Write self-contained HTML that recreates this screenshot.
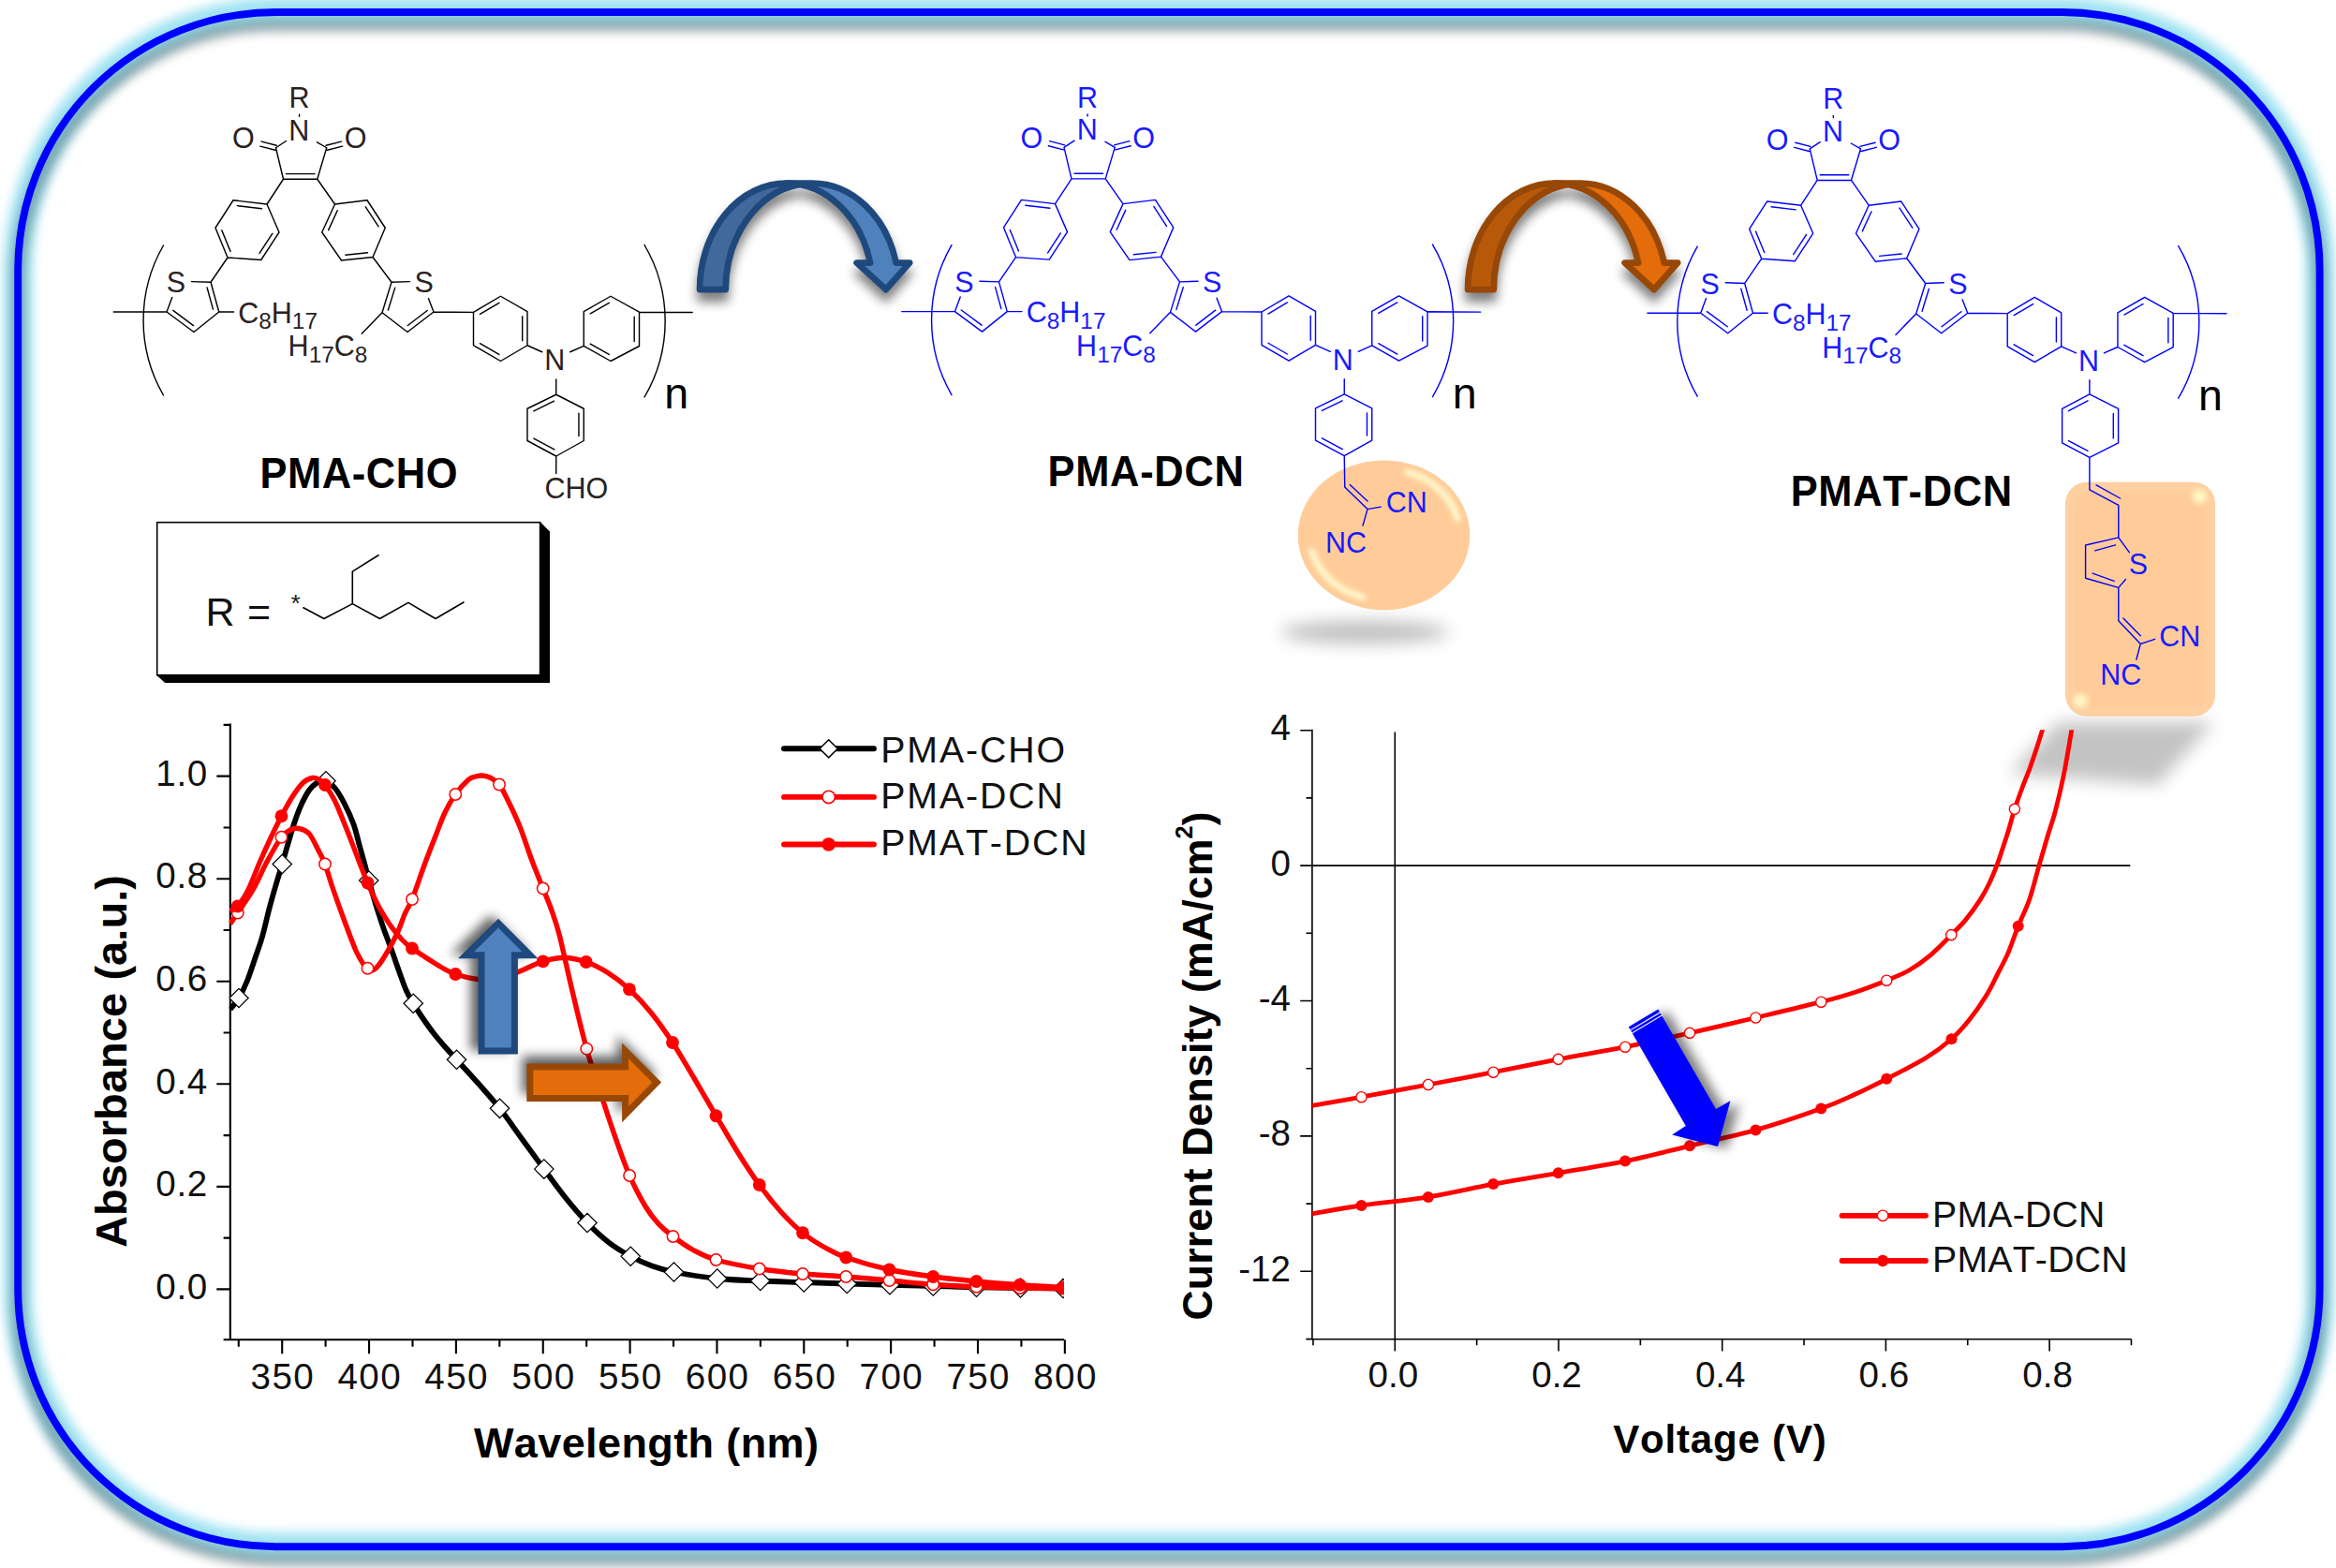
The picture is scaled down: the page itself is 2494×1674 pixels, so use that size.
<!DOCTYPE html>
<html lang="en"><head><meta charset="utf-8"><title>PMA-CHO, PMA-DCN and PMAT-DCN polymers</title>
<style>html,body{margin:0;padding:0;background:#fff}svg{display:block}text{font-family:'Liberation Sans',sans-serif;font-kerning:none}</style></head>
<body>
<svg width="2494" height="1674" viewBox="0 0 2494 1674">
<defs>
<filter id="blur2" x="-20%" y="-20%" width="140%" height="140%"><feGaussianBlur stdDeviation="2"/></filter>
<filter id="blur3" x="-20%" y="-20%" width="140%" height="140%"><feGaussianBlur stdDeviation="3"/></filter>
<filter id="blur5" x="-20%" y="-20%" width="140%" height="140%"><feGaussianBlur stdDeviation="4.5"/></filter>
<filter id="blur6" x="-30%" y="-60%" width="160%" height="220%"><feGaussianBlur stdDeviation="6"/></filter>
<filter id="blur9" x="-30%" y="-60%" width="160%" height="220%"><feGaussianBlur stdDeviation="9"/></filter>
<filter id="fglow" filterUnits="userSpaceOnUse" x="-40" y="-40" width="2580" height="1760"><feGaussianBlur stdDeviation="6"/></filter>
<filter id="fshadow" filterUnits="userSpaceOnUse" x="-40" y="-40" width="2580" height="1760"><feGaussianBlur stdDeviation="6.5"/></filter>
<clipPath id="clipL"><rect x="244.7" y="760" width="891.3" height="672"/></clipPath>
<clipPath id="clipR"><rect x="1400.2" y="779.2" width="876" height="652"/></clipPath>
<clipPath id="clipEl"><ellipse cx="1477.5" cy="571.3" rx="91.8" ry="79.9"/></clipPath>
<clipPath id="clipRR"><rect x="2205" y="514.7" width="160" height="250" rx="23" ry="23"/></clipPath>
</defs>
<rect width="2494" height="1674" fill="#fff"/>
<rect x="19.2" y="13.0" width="2457.4" height="1638.2" rx="275" ry="275" fill="none" stroke="#9ee2f2" stroke-width="30" filter="url(#fglow)"/>
<rect x="19.2" y="13.0" width="2457.4" height="1638.2" rx="275" ry="275" fill="none" stroke="#000" stroke-width="10" opacity="0.4" filter="url(#fshadow)" transform="translate(0,14)"/>
<rect x="19.2" y="13.0" width="2457.4" height="1638.2" rx="275" ry="275" fill="none" stroke="#0000ff" stroke-width="7.9"/>
<ellipse cx="1457" cy="675" rx="90" ry="12" fill="#8c8c8c" opacity="0.56" filter="url(#blur9)"/>
<ellipse cx="1477.5" cy="571.3" rx="91.8" ry="79.9" fill="#ffcc99"/>
<g clip-path="url(#clipEl)" fill="none" stroke-linecap="round"><path d="M1502.6 504.0A81.2 70.7 0 0 1 1556.3 554.2" stroke="#fff3c0" stroke-width="7" filter="url(#blur3)" opacity="0.9"/><path d="M1502.6 504.0A81.2 70.7 0 0 1 1556.3 554.2" stroke="#fffbd8" stroke-width="3" filter="url(#blur2)"/><path d="M1400.5 588.0A79.4 69.1 0 0 0 1455.6 637.7" stroke="#fff3c0" stroke-width="7" filter="url(#blur3)" opacity="0.9"/><path d="M1400.5 588.0A79.4 69.1 0 0 0 1455.6 637.7" stroke="#fffbd8" stroke-width="3" filter="url(#blur2)"/></g>
<path d="M2198 771 L2364 771 L2303 838 L2146 826 Z" fill="#999" opacity="0.58" filter="url(#blur9)"/>
<rect x="2205" y="514.7" width="160" height="250" rx="23" ry="23" fill="#ffcc99"/>
<g clip-path="url(#clipRR)"><rect x="2210" y="519.7" width="150" height="240" rx="18" ry="18" fill="none" stroke="#ffd9b0" stroke-width="10" opacity="0.38" filter="url(#blur2)"/><circle cx="2348" cy="530" r="7.5" fill="#fffac8" filter="url(#blur3)"/><circle cx="2221.5" cy="748" r="7.5" fill="#fffac8" filter="url(#blur3)"/></g>
<g filter="url(#blur6)" opacity="0.5" transform="translate(0,10)"><path d="M747.1 309.1A92.5 113.5 0 0 1 839.6 195.6A92.5 113.5 0 0 1 853.4 196.87A92.5 113.5 0 0 0 774.7 309.1Z" fill="#000" stroke="#000" stroke-width="6.8" stroke-linejoin="round"/><path d="M839.6 195.6L867.2 195.6A92.5 113.5 0 0 1 956.74 280.6L971.19 280.6L945.9 309.1L914.69 280.6L929.14 280.6A92.5 113.5 0 0 0 839.6 195.6Z" fill="#000" stroke="#000" stroke-width="6.8" stroke-linejoin="round"/></g>
<path d="M747.1 309.1A92.5 113.5 0 0 1 839.6 195.6A92.5 113.5 0 0 1 853.4 196.87A92.5 113.5 0 0 0 774.7 309.1Z" fill="#41699c" stroke="#1f497d" stroke-width="6.8" stroke-linejoin="round"/>
<path d="M839.6 195.6L867.2 195.6A92.5 113.5 0 0 1 956.74 280.6L971.19 280.6L945.9 309.1L914.69 280.6L929.14 280.6A92.5 113.5 0 0 0 839.6 195.6Z" fill="#4f81bd" stroke="#1f497d" stroke-width="6.8" stroke-linejoin="round"/>
<g filter="url(#blur6)" opacity="0.5" transform="translate(0,10)"><path d="M1567.1 309.1A92.5 113.5 0 0 1 1659.6 195.6A92.5 113.5 0 0 1 1673.4 196.87A92.5 113.5 0 0 0 1594.7 309.1Z" fill="#000" stroke="#000" stroke-width="6.8" stroke-linejoin="round"/><path d="M1659.6 195.6L1687.2 195.6A92.5 113.5 0 0 1 1776.74 280.6L1791.19 280.6L1765.9 309.1L1734.69 280.6L1749.14 280.6A92.5 113.5 0 0 0 1659.6 195.6Z" fill="#000" stroke="#000" stroke-width="6.8" stroke-linejoin="round"/></g>
<path d="M1567.1 309.1A92.5 113.5 0 0 1 1659.6 195.6A92.5 113.5 0 0 1 1673.4 196.87A92.5 113.5 0 0 0 1594.7 309.1Z" fill="#b8590a" stroke="#974807" stroke-width="6.8" stroke-linejoin="round"/>
<path d="M1659.6 195.6L1687.2 195.6A92.5 113.5 0 0 1 1776.74 280.6L1791.19 280.6L1765.9 309.1L1734.69 280.6L1749.14 280.6A92.5 113.5 0 0 0 1659.6 195.6Z" fill="#e46c0a" stroke="#974807" stroke-width="6.8" stroke-linejoin="round"/>
<path d="M305.5 150.5L294.5 157.75M338.5 151.8L348.75 157.75M294.5 157.75L302.5 191.25M348.75 157.75L338.75 191.25M302.5 191.25L338.75 191.25M305.5 185.6L336 185.6M295.15 155.23L279.15 151.08M293.85 160.27L277.85 156.12M349.39 160.27L365.64 156.12M348.11 155.23L364.36 151.08M319.6 122.3L319.6 124.3M285 218L249 213.75L230 243.25L243 275L278.75 277.5L298 248ZM279.41 222.68L253.34 219.6M236.8 245.87L246.01 268.36M277.04 270.42L290.83 249.29M302.5 191.25L285 218M357.5 218L392 213.75L411.25 243.25L398 274.5L364.5 278L343.75 248ZM350.65 245.66L360.23 224.75M390.29 220.83L404.08 241.96M392.48 269.75L368.92 272.21M338.75 191.25L357.5 218M204.5 300.6L225 301.25M225 301.25L233.75 333M233.75 333L207 354.5M207 354.5L178 333M178 333L183.75 317.5M221.09 307L227.44 330.07M206.54 347.56L184.77 331.42M243 275L225 301.25M233.75 333L249.5 333M178 333L121.25 333M418 301.25L437.5 300.6M418 301.25L408 333.75M408 333.75L435 354.5M435 354.5L463 333M463 333L457.5 318.75M421.74 307.11L414.39 331.01M435.34 347.56L456.2 331.54M398 274.5L418 301.25M408 333.75L386.25 356.25M463 333L505.5 333.4M505.5 333.4L534.5 316.25L563 332.7L563 368.75L534.5 385.5L505.5 368.75ZM512.5 335.42L532.89 323.36M557.7 337.7L557.7 363.75M532.82 378.41L512.48 366.66M563 368.75L578.75 375.75M623.25 332.7L652 316.25L682.5 333.2L682.5 369.5L652 385.5L623.25 369.3ZM630.22 334.82L650.29 323.33M677.2 338.2L677.2 364.5M650.25 378.43L630.21 367.14M608.75 375.75L623.25 369.3M682.5 333.2L739.25 333.5M593.75 405L593.75 421.25M593.75 421.25L623.25 436.25L623.25 470.5L593.75 487L563 470.5L563 436.25ZM569.82 438.82L591.58 428.21M617.95 441.25L617.95 465.5M591.85 479.97L569.91 468.19M174.5 262A160 160 0 0 0 174.5 422M688 261.5A160 160 0 0 1 688 424M593.75 487L593.75 505.5" fill="none" stroke="#000" stroke-width="1.42" stroke-linecap="round" stroke-linejoin="round"/>
<g fill="#2a2222" font-family="'Liberation Sans',sans-serif"><text x="319.5" y="115" font-size="30.5" text-anchor="middle" font-weight="normal" >R</text><text x="319.3" y="149.5" font-size="30.5" text-anchor="middle" font-weight="normal" >N</text><text x="259.8" y="158.4" font-size="30.5" text-anchor="middle" font-weight="normal" >O</text><text x="379.5" y="158.4" font-size="30.5" text-anchor="middle" font-weight="normal" >O</text><text x="187.9" y="312.3" font-size="30.5" text-anchor="middle" font-weight="normal" >S</text><text x="452.6" y="312.3" font-size="30.5" text-anchor="middle" font-weight="normal" >S</text><text x="592.2" y="395" font-size="30.5" text-anchor="middle" font-weight="normal" >N</text><text x="254.2" y="344.8" font-size="30.5">C<tspan font-size="24.4" dy="6.5">8</tspan><tspan dy="-6.5">H</tspan><tspan font-size="24.4" dy="6.5">17</tspan></text><text x="307.6" y="380.4" font-size="30.5">H<tspan font-size="24.4" dy="6.5">17</tspan><tspan dy="-6.5">C</tspan><tspan font-size="24.4" dy="6.5">8</tspan></text><text x="615.3" y="532.4" font-size="30.5" text-anchor="middle" font-weight="normal" >CHO</text></g>
<text x="709.3" y="436.3" font-size="46.5" text-anchor="start" font-weight="normal" fill="#000" font-family="'Liberation Sans',sans-serif">n</text>
<path d="M1147 150.1L1136 157.35M1180 151.4L1190.25 157.35M1136 157.35L1144 190.85M1190.25 157.35L1180.25 190.85M1144 190.85L1180.25 190.85M1147 185.2L1177.5 185.2M1136.65 154.83L1120.65 150.68M1135.35 159.87L1119.35 155.72M1190.89 159.87L1207.14 155.72M1189.61 154.83L1205.86 150.68M1161.1 121.9L1161.1 123.9M1126.5 217.6L1090.5 213.35L1071.5 242.85L1084.5 274.6L1120.25 277.1L1139.5 247.6ZM1120.91 222.28L1094.84 219.2M1078.3 245.47L1087.51 267.96M1118.54 270.02L1132.33 248.89M1144 190.85L1126.5 217.6M1199 217.6L1233.5 213.35L1252.75 242.85L1239.5 274.1L1206 277.6L1185.25 247.6ZM1192.15 245.26L1201.73 224.35M1231.79 220.43L1245.58 241.56M1233.98 269.35L1210.42 271.81M1180.25 190.85L1199 217.6M1046 300.2L1066.5 300.85M1066.5 300.85L1075.25 332.6M1075.25 332.6L1048.5 354.1M1048.5 354.1L1019.5 332.6M1019.5 332.6L1025.25 317.1M1062.59 306.6L1068.94 329.67M1048.04 347.16L1026.27 331.02M1084.5 274.6L1066.5 300.85M1075.25 332.6L1091 332.6M1019.5 332.6L962.75 332.6M1259.5 300.85L1279 300.2M1259.5 300.85L1249.5 333.35M1249.5 333.35L1276.5 354.1M1276.5 354.1L1304.5 332.6M1304.5 332.6L1299 318.35M1263.24 306.71L1255.89 330.61M1276.84 347.16L1297.7 331.14M1239.5 274.1L1259.5 300.85M1249.5 333.35L1227.75 355.85M1304.5 332.6L1347 333M1347 333L1376 315.85L1404.5 332.3L1404.5 368.35L1376 385.1L1347 368.35ZM1354 335.02L1374.39 322.96M1399.2 337.3L1399.2 363.35M1374.32 378.01L1353.98 366.26M1404.5 368.35L1420.25 375.35M1464.75 332.3L1493.5 315.85L1524 332.8L1524 369.1L1493.5 385.1L1464.75 368.9ZM1471.72 334.42L1491.79 322.93M1518.7 337.8L1518.7 364.1M1491.75 378.03L1471.71 366.74M1450.25 375.35L1464.75 368.9M1524 332.8L1580.75 333.1M1435.25 404.6L1435.25 420.85M1435.25 420.85L1464.75 435.85L1464.75 470.1L1435.25 486.6L1404.5 470.1L1404.5 435.85ZM1411.32 438.42L1433.08 427.81M1459.45 440.85L1459.45 465.1M1433.35 479.57L1411.41 467.79M1016 261.6A160 160 0 0 0 1016 421.6M1529.5 261.1A160 160 0 0 1 1529.5 423.6M1435.25 486.6L1435.75 519.9M1435.75 519.9L1460 543.6M1441.25 517.4L1460 535.1M1460 543.6L1474.25 541.1M1460 543.6L1455 561.1" fill="none" stroke="#0000ff" stroke-width="1.42" stroke-linecap="round" stroke-linejoin="round"/>
<g fill="#1a1aff" font-family="'Liberation Sans',sans-serif"><text x="1161" y="114.6" font-size="30.5" text-anchor="middle" font-weight="normal" >R</text><text x="1160.8" y="149.1" font-size="30.5" text-anchor="middle" font-weight="normal" >N</text><text x="1101.3" y="158" font-size="30.5" text-anchor="middle" font-weight="normal" >O</text><text x="1221" y="158" font-size="30.5" text-anchor="middle" font-weight="normal" >O</text><text x="1029.4" y="311.9" font-size="30.5" text-anchor="middle" font-weight="normal" >S</text><text x="1294.1" y="311.9" font-size="30.5" text-anchor="middle" font-weight="normal" >S</text><text x="1433.7" y="394.6" font-size="30.5" text-anchor="middle" font-weight="normal" >N</text><text x="1095.7" y="344.4" font-size="30.5">C<tspan font-size="24.4" dy="6.5">8</tspan><tspan dy="-6.5">H</tspan><tspan font-size="24.4" dy="6.5">17</tspan></text><text x="1149.1" y="380" font-size="30.5">H<tspan font-size="24.4" dy="6.5">17</tspan><tspan dy="-6.5">C</tspan><tspan font-size="24.4" dy="6.5">8</tspan></text><text x="1501.7" y="547.4" font-size="30.5" text-anchor="middle" font-weight="normal" >CN</text><text x="1437.1" y="589.9" font-size="30.5" text-anchor="middle" font-weight="normal" >NC</text></g>
<text x="1550.8" y="435.9" font-size="46.5" text-anchor="start" font-weight="normal" fill="#000" font-family="'Liberation Sans',sans-serif">n</text>
<path d="M1943.2 151.7L1932.2 158.95M1976.2 153L1986.45 158.95M1932.2 158.95L1940.2 192.45M1986.45 158.95L1976.45 192.45M1940.2 192.45L1976.45 192.45M1943.2 186.8L1973.7 186.8M1932.85 156.43L1916.85 152.28M1931.55 161.47L1915.55 157.32M1987.09 161.47L2003.34 157.32M1985.81 156.43L2002.06 152.28M1957.3 123.5L1957.3 125.5M1922.7 219.2L1886.7 214.95L1867.7 244.45L1880.7 276.2L1916.45 278.7L1935.7 249.2ZM1917.11 223.88L1891.04 220.8M1874.5 247.07L1883.71 269.56M1914.74 271.62L1928.53 250.49M1940.2 192.45L1922.7 219.2M1995.2 219.2L2029.7 214.95L2048.95 244.45L2035.7 275.7L2002.2 279.2L1981.45 249.2ZM1988.35 246.86L1997.93 225.95M2027.99 222.03L2041.78 243.16M2030.18 270.95L2006.62 273.41M1976.45 192.45L1995.2 219.2M1842.2 301.8L1862.7 302.45M1862.7 302.45L1871.45 334.2M1871.45 334.2L1844.7 355.7M1844.7 355.7L1815.7 334.2M1815.7 334.2L1821.45 318.7M1858.79 308.2L1865.14 331.27M1844.24 348.76L1822.47 332.62M1880.7 276.2L1862.7 302.45M1871.45 334.2L1887.2 334.2M1815.7 334.2L1758.95 334.2M2055.7 302.45L2075.2 301.8M2055.7 302.45L2045.7 334.95M2045.7 334.95L2072.7 355.7M2072.7 355.7L2100.7 334.2M2100.7 334.2L2095.2 319.95M2059.44 308.31L2052.09 332.21M2073.04 348.76L2093.9 332.74M2035.7 275.7L2055.7 302.45M2045.7 334.95L2023.95 357.45M2100.7 334.2L2143.2 334.6M2143.2 334.6L2172.2 317.45L2200.7 333.9L2200.7 369.95L2172.2 386.7L2143.2 369.95ZM2150.2 336.62L2170.59 324.56M2195.4 338.9L2195.4 364.95M2170.52 379.61L2150.18 367.86M2200.7 369.95L2216.45 376.95M2260.95 333.9L2289.7 317.45L2320.2 334.4L2320.2 370.7L2289.7 386.7L2260.95 370.5ZM2267.92 336.02L2287.99 324.53M2314.9 339.4L2314.9 365.7M2287.95 379.63L2267.91 368.34M2246.45 376.95L2260.95 370.5M2320.2 334.4L2376.95 334.7M2230.9 405.6L2230.9 420.8M2230.9 420.8L2261.6 436.4L2261.6 472.9L2230.9 488.4L2201.6 472.9L2201.6 436.4ZM2208.5 438.73L2228.98 427.83M2256.3 441.4L2256.3 467.9M2228.96 481.38L2208.5 470.55M1812.2 263.2A160 160 0 0 0 1812.2 423.2M2325.7 262.7A160 160 0 0 1 2325.7 425.2M2230.9 488.4L2230.9 522.9M2230.9 522.9L2261.8 539.4M2238.1 517.8L2263.6 532M2261.8 539.4L2261.8 573.9M2261.8 573.9L2226.6 582M2226.6 582L2226.6 617.2M2226.6 617.2L2261.8 627.4M2261.8 573.9L2273.3 589.7M2261.8 627.4L2269.4 618.5M2236.8 587.9L2258.5 581.9M2234.2 612.1L2257.2 620.3M2261.8 627.4L2261.8 662.7M2261.8 662.7L2285.3 687.4M2266.9 660.1L2285.3 678.8M2285.3 687.4L2300.6 682.3M2285.3 687.4L2280.9 704" fill="none" stroke="#0000ff" stroke-width="1.42" stroke-linecap="round" stroke-linejoin="round"/>
<g fill="#1a1aff" font-family="'Liberation Sans',sans-serif"><text x="1957.2" y="116.2" font-size="30.5" text-anchor="middle" font-weight="normal" >R</text><text x="1957" y="150.7" font-size="30.5" text-anchor="middle" font-weight="normal" >N</text><text x="1897.5" y="159.6" font-size="30.5" text-anchor="middle" font-weight="normal" >O</text><text x="2017.2" y="159.6" font-size="30.5" text-anchor="middle" font-weight="normal" >O</text><text x="1825.6" y="313.5" font-size="30.5" text-anchor="middle" font-weight="normal" >S</text><text x="2090.3" y="313.5" font-size="30.5" text-anchor="middle" font-weight="normal" >S</text><text x="2229.9" y="396.2" font-size="30.5" text-anchor="middle" font-weight="normal" >N</text><text x="1891.9" y="346" font-size="30.5">C<tspan font-size="24.4" dy="6.5">8</tspan><tspan dy="-6.5">H</tspan><tspan font-size="24.4" dy="6.5">17</tspan></text><text x="1945.3" y="381.6" font-size="30.5">H<tspan font-size="24.4" dy="6.5">17</tspan><tspan dy="-6.5">C</tspan><tspan font-size="24.4" dy="6.5">8</tspan></text><text x="2283" y="612.7" font-size="30.5" text-anchor="middle" font-weight="normal" >S</text><text x="2327.2" y="690.2" font-size="30.5" text-anchor="middle" font-weight="normal" >CN</text><text x="2264.3" y="731" font-size="30.5" text-anchor="middle" font-weight="normal" >NC</text></g>
<text x="2347" y="437.5" font-size="46.5" text-anchor="start" font-weight="normal" fill="#000" font-family="'Liberation Sans',sans-serif">n</text>
<g font-family="'Liberation Sans',sans-serif" font-weight="bold" fill="#000">
<text transform="translate(277.5,521.2) scale(1,1.055)" font-size="43.5" textLength="211" lengthAdjust="spacing">PMA-CHO</text>
<text transform="translate(1118.5,519.2) scale(1,1.055)" font-size="43.5" textLength="209.5" lengthAdjust="spacing">PMA-DCN</text>
<text transform="translate(1911.7,540.4) scale(1,1.055)" font-size="43.5" textLength="236.5" lengthAdjust="spacing">PMAT-DCN</text>
</g>
<path d="M576.6 557 L587 567.6 L587 729 L176.2 729 L167 720.7 Z" fill="#000"/>
<rect x="167.7" y="557.7" width="408.9" height="163" fill="#fff" stroke="#000" stroke-width="1.6"/>
<text x="219.5" y="667.6" font-size="43" font-family="'Liberation Sans',sans-serif" fill="#111" word-spacing="1.5" xml:space="preserve">R = </text>
<text x="310.6" y="653" font-size="26.5" font-family="'Liberation Sans',sans-serif" fill="#222">*</text>
<path d="M323.9 648.8L345.9 660.5L376.3 644.6L405.5 660.5L435.9 643.4L465 660.5L495 643M376.3 644.6L376.3 610.1L404 592.7" fill="none" stroke="#000" stroke-width="1.6" stroke-linejoin="round" stroke-linecap="round"/>
<path d="M245.8 772.6L245.8 1430.2M238.6 1430.2L1136 1430.2M231.3 1376.4L245.8 1376.4M231.3 1266.85L245.8 1266.85M231.3 1157.3L245.8 1157.3M231.3 1047.75L245.8 1047.75M231.3 938.2L245.8 938.2M231.3 828.65L245.8 828.65M238.6 1321.62L245.8 1321.62M238.6 1212.08L245.8 1212.08M238.6 1102.53L245.8 1102.53M238.6 992.98L245.8 992.98M238.6 883.43L245.8 883.43M238.6 773.88L245.8 773.88M301.2 1430.2L301.2 1445.2M394.05 1430.2L394.05 1445.2M486.9 1430.2L486.9 1445.2M579.75 1430.2L579.75 1445.2M672.6 1430.2L672.6 1445.2M765.45 1430.2L765.45 1445.2M858.3 1430.2L858.3 1445.2M951.15 1430.2L951.15 1445.2M1044 1430.2L1044 1445.2M1136.85 1430.2L1136.85 1445.2M254.77 1430.2L254.77 1437.7M347.62 1430.2L347.62 1437.7M440.48 1430.2L440.48 1437.7M533.33 1430.2L533.33 1437.7M626.17 1430.2L626.17 1437.7M719.02 1430.2L719.02 1437.7M811.88 1430.2L811.88 1437.7M904.72 1430.2L904.72 1437.7M997.58 1430.2L997.58 1437.7M1090.42 1430.2L1090.42 1437.7" fill="none" stroke="#000" stroke-width="2.1"/>
<g font-family="'Liberation Sans',sans-serif" font-size="38.6" fill="#111">
<text x="221.8" y="1386.6" text-anchor="end" letter-spacing="0.6">0.0</text>
<text x="221.8" y="1277.05" text-anchor="end" letter-spacing="0.6">0.2</text>
<text x="221.8" y="1167.5" text-anchor="end" letter-spacing="0.6">0.4</text>
<text x="221.8" y="1057.95" text-anchor="end" letter-spacing="0.6">0.6</text>
<text x="221.8" y="948.4" text-anchor="end" letter-spacing="0.6">0.8</text>
<text x="221.8" y="838.85" text-anchor="end" letter-spacing="0.6">1.0</text>
<text x="301.9" y="1483.3" text-anchor="middle" letter-spacing="1.4">350</text>
<text x="394.75" y="1483.3" text-anchor="middle" letter-spacing="1.4">400</text>
<text x="487.6" y="1483.3" text-anchor="middle" letter-spacing="1.4">450</text>
<text x="580.45" y="1483.3" text-anchor="middle" letter-spacing="1.4">500</text>
<text x="673.3" y="1483.3" text-anchor="middle" letter-spacing="1.4">550</text>
<text x="766.15" y="1483.3" text-anchor="middle" letter-spacing="1.4">600</text>
<text x="859" y="1483.3" text-anchor="middle" letter-spacing="1.4">650</text>
<text x="951.85" y="1483.3" text-anchor="middle" letter-spacing="1.4">700</text>
<text x="1044.7" y="1483.3" text-anchor="middle" letter-spacing="1.4">750</text>
<text x="1137.55" y="1483.3" text-anchor="middle" letter-spacing="1.4">800</text>
</g>
<text transform="translate(134.8,1332) rotate(-90)" font-size="47" font-weight="bold" font-family="'Liberation Sans',sans-serif" textLength="398" lengthAdjust="spacing" fill="#000">Absorbance (a.u.)</text>
<text x="506" y="1556.2" font-size="45" font-weight="bold" font-family="'Liberation Sans',sans-serif" textLength="368" lengthAdjust="spacing" fill="#000">Wavelength (nm)</text>
<g clip-path="url(#clipL)">
<path d="M245.75 1077.5C247.29 1075.5 252 1070.5 255 1065.5C258 1060.5 260.83 1054.67 263.75 1047.5C266.67 1040.33 269.79 1030.42 272.5 1022.5C275.21 1014.58 277.5 1008.75 280 1000C282.5 991.25 285.21 978.75 287.5 970C289.79 961.25 291.46 955.42 293.75 947.5C296.04 939.58 299.17 929.58 301.25 922.5C303.33 915.42 304.17 912.08 306.25 905C308.33 897.92 311.25 887.5 313.75 880C316.25 872.5 318.54 866.04 321.25 860C323.96 853.96 327.29 847.71 330 843.75C332.71 839.79 335 837.96 337.5 836.25C340 834.54 343.25 833.92 345 833.5C346.75 833.08 345.92 832.46 348 833.75C350.08 835.04 354.25 837.29 357.5 841.25C360.75 845.21 364.17 851.04 367.5 857.5C370.83 863.96 374.79 872.5 377.5 880C380.21 887.5 381.67 895 383.75 902.5C385.83 910 388.33 918.75 390 925C391.67 931.25 391.67 932.5 393.75 940C395.83 947.5 399.79 961.25 402.5 970C405.21 978.75 407.5 985.42 410 992.5C412.5 999.58 414.79 1005 417.5 1012.5C420.21 1020 423.54 1030 426.25 1037.5C428.96 1045 431.25 1051.88 433.75 1057.5C436.25 1063.12 438.54 1066.67 441.25 1071.25C443.96 1075.83 446.46 1079.79 450 1085C453.54 1090.21 458.33 1097.08 462.5 1102.5C466.67 1107.92 470.83 1112.71 475 1117.5C479.17 1122.29 481.67 1124.83 487.5 1131.25C493.33 1137.67 502.33 1147.33 510 1156C517.67 1164.67 525.67 1173.38 533.5 1183.3C541.33 1193.22 549.12 1204.7 557 1215.5C564.88 1226.3 572.97 1237.52 580.8 1248.1C588.63 1258.68 596.3 1269.43 604 1279C611.7 1288.57 619.33 1297.58 627 1305.5C634.67 1313.42 642.29 1320.54 650 1326.5C657.71 1332.46 665.58 1337.08 673.25 1341.25C680.92 1345.42 688.29 1348.71 696 1351.5C703.71 1354.29 707.88 1355.75 719.5 1358C731.12 1360.25 750.38 1363.42 765.75 1365C781.12 1366.58 796.33 1366.83 811.75 1367.5C827.17 1368.17 842.83 1368.5 858.25 1369C873.67 1369.5 888.96 1370.04 904.25 1370.5C919.54 1370.96 934.67 1371.33 950 1371.75C965.33 1372.17 980.83 1372.58 996.25 1373C1011.67 1373.42 1026.96 1373.92 1042.5 1374.25C1058.04 1374.58 1074.08 1374.79 1089.5 1375C1104.92 1375.21 1127.42 1375.42 1135 1375.5" fill="none" stroke="#000" stroke-width="5.8" stroke-linejoin="round"/>
<path d="M244.8 1065.5L255 1055.3L265.2 1065.5L255 1075.7ZM291.05 922.5L301.25 912.3L311.45 922.5L301.25 932.7ZM337.8 833.75L348 823.55L358.2 833.75L348 843.95ZM383.55 940L393.75 929.8L403.95 940L393.75 950.2ZM431.05 1071.25L441.25 1061.05L451.45 1071.25L441.25 1081.45ZM477.3 1131.25L487.5 1121.05L497.7 1131.25L487.5 1141.45ZM523.3 1183.3L533.5 1173.1L543.7 1183.3L533.5 1193.5ZM570.6 1248.1L580.8 1237.9L591 1248.1L580.8 1258.3ZM616.8 1305.5L627 1295.3L637.2 1305.5L627 1315.7ZM663.05 1341.25L673.25 1331.05L683.45 1341.25L673.25 1351.45ZM709.3 1358L719.5 1347.8L729.7 1358L719.5 1368.2ZM755.55 1365L765.75 1354.8L775.95 1365L765.75 1375.2ZM801.55 1367.5L811.75 1357.3L821.95 1367.5L811.75 1377.7ZM848.05 1369L858.25 1358.8L868.45 1369L858.25 1379.2ZM894.05 1370.5L904.25 1360.3L914.45 1370.5L904.25 1380.7ZM939.8 1371.75L950 1361.55L960.2 1371.75L950 1381.95ZM986.05 1373L996.25 1362.8L1006.45 1373L996.25 1383.2ZM1032.3 1374.25L1042.5 1364.05L1052.7 1374.25L1042.5 1384.45ZM1079.3 1375L1089.5 1364.8L1099.7 1375L1089.5 1385.2ZM1124.8 1375.5L1135 1365.3L1145.2 1375.5L1135 1385.7Z" fill="#fff" stroke="#000" stroke-width="1.25"/>
<path d="M245.75 986.25C247.08 984.29 249.71 980.54 253.75 974.5C257.79 968.46 264.79 959.08 270 950C275.21 940.92 279.92 929.38 285 920C290.08 910.62 296.33 899.42 300.5 893.75C304.67 888.08 306.96 887.54 310 886C313.04 884.46 315.42 883.83 318.75 884.5C322.08 885.17 326.46 886.08 330 890C333.54 893.92 337.17 902.58 340 908C342.83 913.42 344.5 915.92 347 922.5C349.5 929.08 351.58 937.5 355 947.5C358.42 957.5 363.33 971.25 367.5 982.5C371.67 993.75 376.42 1006.92 380 1015C383.58 1023.08 386.58 1027.5 389 1031C391.42 1034.5 392.5 1035.5 394.5 1036C396.5 1036.5 398.42 1036.33 401 1034C403.58 1031.67 406.21 1028.17 410 1022C413.79 1015.83 420 1004.83 423.75 997C427.5 989.17 429.79 981.17 432.5 975C435.21 968.83 436.67 968.33 440 960C443.33 951.67 448.33 936.25 452.5 925C456.67 913.75 461.25 902.08 465 892.5C468.75 882.92 471.46 874.92 475 867.5C478.54 860.08 482.08 853.83 486.25 848C490.42 842.17 496.38 835.67 500 832.5C503.62 829.33 505.5 829.75 508 829C510.5 828.25 512.33 827.75 515 828C517.67 828.25 521 828.92 524 830.5C527 832.08 529.92 833.42 533 837.5C536.08 841.58 538.83 847.5 542.5 855C546.17 862.5 550.83 872.08 555 882.5C559.17 892.92 563.38 906.5 567.5 917.5C571.62 928.5 576.12 939.42 579.7 948.5C583.28 957.58 586.07 963.63 589 972C591.93 980.37 593.62 984.3 597.3 998.7C600.98 1013.1 606.27 1038.23 611.1 1058.4C615.93 1078.57 620.95 1100.57 626.3 1119.7C631.65 1138.83 638.08 1157.4 643.2 1173.2C648.32 1189 652.18 1200.87 657 1214.5C661.82 1228.13 666.75 1242.75 672.1 1255C677.45 1267.25 683.97 1279.43 689.1 1288C694.23 1296.57 698 1301.07 702.9 1306.4C707.8 1311.73 712.32 1315.32 718.5 1320C724.68 1324.68 732.33 1330.33 740 1334.5C747.67 1338.67 752.71 1341.67 764.5 1345C776.29 1348.33 795.33 1352 810.75 1354.5C826.17 1357 841.58 1358.58 857 1360C872.42 1361.42 887.83 1361.83 903.25 1363C918.67 1364.17 934 1365.62 949.5 1367C965 1368.38 980.75 1370.12 996.25 1371.25C1011.75 1372.38 1027.08 1373.12 1042.5 1373.75C1057.92 1374.38 1073.33 1374.71 1088.75 1375C1104.17 1375.29 1127.29 1375.42 1135 1375.5" fill="none" stroke="#f00" stroke-width="5.4" stroke-linejoin="round"/>
<g fill="#fff" stroke="#f00" stroke-width="1.5"><circle cx="253.75" cy="974.5" r="6.2"/><circle cx="300.5" cy="893.75" r="6.2"/><circle cx="347" cy="922.5" r="6.2"/><circle cx="392.5" cy="1033.75" r="6.2"/><circle cx="440" cy="960" r="6.2"/><circle cx="486.25" cy="848" r="6.2"/><circle cx="533" cy="837.5" r="6.2"/><circle cx="579.7" cy="948.5" r="6.2"/><circle cx="626.3" cy="1119.7" r="6.2"/><circle cx="672.1" cy="1255" r="6.2"/><circle cx="718.5" cy="1320" r="6.2"/><circle cx="764.5" cy="1345" r="6.2"/><circle cx="810.75" cy="1354.5" r="6.2"/><circle cx="857" cy="1360" r="6.2"/><circle cx="903.25" cy="1363" r="6.2"/><circle cx="949.5" cy="1367" r="6.2"/><circle cx="996.25" cy="1371.25" r="6.2"/><circle cx="1042.5" cy="1373.75" r="6.2"/><circle cx="1088.75" cy="1375" r="6.2"/><circle cx="1135" cy="1375.5" r="6.2"/></g>
<path d="M245.75 972.5C247.08 971.67 250.54 971.25 253.75 967.5C256.96 963.75 261.04 957.92 265 950C268.96 942.08 273.33 929.58 277.5 920C281.67 910.42 286.17 900.62 290 892.5C293.83 884.38 296.75 878.33 300.5 871.25C304.25 864.17 308.62 855.96 312.5 850C316.38 844.04 320.21 838.75 323.75 835.5C327.29 832.25 330.88 831 333.75 830.5C336.62 830 338.79 831.25 341 832.5C343.21 833.75 344.25 834.25 347 838C349.75 841.75 353.67 847.17 357.5 855C361.33 862.83 365.83 874.58 370 885C374.17 895.42 378.75 907.92 382.5 917.5C386.25 927.08 388.75 933.92 392.5 942.5C396.25 951.08 400.83 961.25 405 969C409.17 976.75 413.33 983.17 417.5 989C421.67 994.83 426.25 1000.08 430 1004C433.75 1007.92 435.83 1009.42 440 1012.5C444.17 1015.58 450 1019.25 455 1022.5C460 1025.75 464.79 1029.08 470 1032C475.21 1034.92 479.58 1037.75 486.25 1040C492.92 1042.25 502.21 1044.5 510 1045.5C517.79 1046.5 525.33 1047.5 533 1046C540.67 1044.5 548.22 1039.78 556 1036.5C563.78 1033.22 571.95 1028.63 579.7 1026.3C587.45 1023.97 594.83 1022.38 602.5 1022.5C610.17 1022.62 618 1024.33 625.75 1027C633.5 1029.67 641.29 1033.62 649 1038.5C656.71 1043.38 664.33 1049.17 672 1056.25C679.67 1063.33 687.33 1071.54 695 1081C702.67 1090.46 710.33 1101.33 718 1113C725.67 1124.67 733.25 1137.96 741 1151C748.75 1164.04 756.75 1178.08 764.5 1191.25C772.25 1204.42 779.79 1217.71 787.5 1230C795.21 1242.29 803 1254.33 810.75 1265C818.5 1275.67 826.29 1285.46 834 1294C841.71 1302.54 849.33 1310 857 1316.25C864.67 1322.5 872.29 1327.12 880 1331.5C887.71 1335.88 891.67 1338.5 903.25 1342.5C914.83 1346.5 934 1352.08 949.5 1355.5C965 1358.92 980.75 1360.92 996.25 1363C1011.75 1365.08 1027.08 1366.54 1042.5 1368C1057.92 1369.46 1073.33 1370.67 1088.75 1371.75C1104.17 1372.83 1127.29 1374.04 1135 1374.5" fill="none" stroke="#f00" stroke-width="5.4" stroke-linejoin="round"/>
<g fill="#f00"><circle cx="253.75" cy="967.5" r="6.9"/><circle cx="300.5" cy="871.25" r="6.9"/><circle cx="347" cy="838" r="6.9"/><circle cx="392.5" cy="942.5" r="6.9"/><circle cx="440" cy="1012.5" r="6.9"/><circle cx="486.25" cy="1040" r="6.9"/><circle cx="533" cy="1046" r="6.9"/><circle cx="579.7" cy="1026.3" r="6.9"/><circle cx="625.75" cy="1027" r="6.9"/><circle cx="672" cy="1056.25" r="6.9"/><circle cx="718" cy="1113" r="6.9"/><circle cx="764.5" cy="1191.25" r="6.9"/><circle cx="810.75" cy="1265" r="6.9"/><circle cx="857" cy="1316.25" r="6.9"/><circle cx="903.25" cy="1342.5" r="6.9"/><circle cx="949.5" cy="1355.5" r="6.9"/><circle cx="996.25" cy="1363" r="6.9"/><circle cx="1042.5" cy="1368" r="6.9"/><circle cx="1088.75" cy="1371.75" r="6.9"/><circle cx="1135" cy="1374.5" r="6.9"/></g>
</g>
<path d="M837 799.3L933 799.3" stroke="#000" stroke-width="5.9" stroke-linecap="round"/>
<path d="M875.1 799.3L884.7 789.7L894.3 799.3L884.7 808.9Z" fill="#fff" stroke="#000" stroke-width="1.5"/>
<path d="M837 850.9L933 850.9" stroke="#f00" stroke-width="5.9" stroke-linecap="round"/>
<circle cx="884.7" cy="850.9" r="6.7" fill="#fff" stroke="#f00" stroke-width="1.6"/>
<path d="M837 901.5L933 901.5" stroke="#f00" stroke-width="5.9" stroke-linecap="round"/>
<circle cx="884.7" cy="901.5" r="7.3" fill="#f00"/>
<g font-family="'Liberation Sans',sans-serif" font-size="39.3" fill="#111" letter-spacing="1.85">
<text x="940.3" y="813.6">PMA-CHO</text>
<text x="940.3" y="863.3">PMA-DCN</text>
<text x="940.3" y="913.4">PMAT-DCN</text>
</g>
<path d="M514 1122L514 1019.7L497.5 1019.7L532 985.6L566 1019.7L549.4 1019.7L549.4 1122Z" fill="#000" stroke="#000" stroke-width="7" opacity="0.62" filter="url(#blur6)" transform="translate(-8,-4)"/>
<path d="M514 1122L514 1019.7L497.5 1019.7L532 985.6L566 1019.7L549.4 1019.7L549.4 1122Z" fill="#4f81bd" stroke="#1f497d" stroke-width="7" stroke-linejoin="miter"/>
<path d="M565.8 1138.9L667.6 1138.9L667.6 1121.9L701.2 1155.6L667.6 1189.7L667.6 1172.4L565.8 1172.4Z" fill="#000" stroke="#000" stroke-width="7" opacity="0.62" filter="url(#blur6)" transform="translate(-5,-8)"/>
<path d="M565.8 1138.9L667.6 1138.9L667.6 1121.9L701.2 1155.6L667.6 1189.7L667.6 1172.4L565.8 1172.4Z" fill="#e46c0a" stroke="#974807" stroke-width="7" stroke-linejoin="miter"/>
<path d="M1400.9 778.8L1400.9 1429.8M1394.3 1429.8L2275.6 1429.8M1388.2 779.7L1400.9 779.7M1388.2 924.1L1400.9 924.1M1388.2 1068.5L1400.9 1068.5M1388.2 1212.9L1400.9 1212.9M1388.2 1357.3L1400.9 1357.3M1394.5 851.9L1400.9 851.9M1394.5 996.3L1400.9 996.3M1394.5 1140.7L1400.9 1140.7M1394.5 1285.1L1400.9 1285.1M1394.5 1429.5L1400.9 1429.5M1489.3 1429.8L1489.3 1442.6M1664 1429.8L1664 1442.6M1838.7 1429.8L1838.7 1442.6M2013.4 1429.8L2013.4 1442.6M2188.1 1429.8L2188.1 1442.6M1401.95 1429.8L1401.95 1436.2M1576.65 1429.8L1576.65 1436.2M1751.35 1429.8L1751.35 1436.2M1926.05 1429.8L1926.05 1436.2M2100.75 1429.8L2100.75 1436.2M2275.45 1429.8L2275.45 1436.2M1489.3 781.5L1489.3 1429.8M1400.9 924.1L2274.3 924.1" fill="none" stroke="#000" stroke-width="1.6"/>
<g font-family="'Liberation Sans',sans-serif" font-size="38.6" fill="#111">
<text x="1378" y="790.1" text-anchor="end">4</text>
<text x="1378" y="934.5" text-anchor="end">0</text>
<text x="1378" y="1078.9" text-anchor="end">-4</text>
<text x="1378" y="1223.3" text-anchor="end">-8</text>
<text x="1378" y="1367.7" text-anchor="end">-12</text>
<text x="1487.3" y="1481.3" text-anchor="middle">0.0</text>
<text x="1662" y="1481.3" text-anchor="middle">0.2</text>
<text x="1836.7" y="1481.3" text-anchor="middle">0.4</text>
<text x="2011.4" y="1481.3" text-anchor="middle">0.6</text>
<text x="2186.1" y="1481.3" text-anchor="middle">0.8</text>
</g>
<text transform="translate(1294.2,1409.5) rotate(-90)" font-size="44.6" font-weight="bold" font-family="'Liberation Sans',sans-serif" textLength="543" lengthAdjust="spacing" fill="#000">Current Density (mA/cm<tspan font-size="25" dy="-21">2</tspan><tspan dy="21">)</tspan></text>
<text x="1722.2" y="1550.5" font-size="42" font-weight="bold" font-family="'Liberation Sans',sans-serif" textLength="227.5" lengthAdjust="spacing" fill="#000">Voltage (V)</text>
<g clip-path="url(#clipR)">
<path d="M1400.9 1180.4C1409.67 1178.87 1432.83 1174.93 1453.5 1171.2C1474.17 1167.47 1501.43 1162.42 1524.9 1158C1548.37 1153.58 1571.17 1149.22 1594.3 1144.7C1617.43 1140.18 1640.23 1135.4 1663.7 1130.9C1687.17 1126.4 1711.72 1122.37 1735.1 1117.7C1758.48 1113.03 1780.78 1108.1 1804 1102.9C1827.22 1097.7 1851.02 1092.03 1874.4 1086.5C1897.78 1080.97 1926.7 1074.2 1944.3 1069.7C1961.9 1065.2 1968.35 1063.33 1980 1059.5C1991.65 1055.67 2004.53 1050.62 2014.2 1046.7C2023.87 1042.78 2030.37 1040.33 2038 1036C2045.63 1031.67 2052.45 1027.02 2060 1020.7C2067.55 1014.38 2076.92 1004.48 2083.3 998.1C2089.68 991.72 2093.25 988.52 2098.3 982.4C2103.35 976.28 2109.45 967.77 2113.6 961.4C2117.75 955.03 2120.17 950.42 2123.2 944.2C2126.23 937.98 2129.33 930.47 2131.8 924.1C2134.27 917.73 2135.88 912.35 2138 906C2140.12 899.65 2142.35 893.03 2144.5 886C2146.65 878.97 2148.48 871.3 2150.9 863.8C2153.32 856.3 2156.28 848.3 2159 841C2161.72 833.7 2164.7 826.83 2167.2 820C2169.7 813.17 2171.77 806.8 2174 800C2176.23 793.2 2178.93 784.37 2180.6 779.2C2182.27 774.03 2183.43 770.7 2184 769" fill="none" stroke="#f00" stroke-width="4.8" stroke-linejoin="round"/>
<g fill="#fff" stroke="#f00" stroke-width="1.4"><circle cx="1453.5" cy="1171.2" r="5.6"/><circle cx="1524.9" cy="1158" r="5.6"/><circle cx="1594.3" cy="1144.7" r="5.6"/><circle cx="1663.7" cy="1130.9" r="5.6"/><circle cx="1735.1" cy="1117.7" r="5.6"/><circle cx="1804" cy="1102.9" r="5.6"/><circle cx="1874.4" cy="1086.5" r="5.6"/><circle cx="1944.3" cy="1069.7" r="5.6"/><circle cx="2014.2" cy="1046.7" r="5.6"/><circle cx="2083.3" cy="998.1" r="5.6"/><circle cx="2150.9" cy="863.8" r="5.6"/></g>
<path d="M1400.9 1295.7C1409.67 1294.25 1432.83 1289.97 1453.5 1287C1474.17 1284.03 1501.43 1281.72 1524.9 1277.9C1548.37 1274.08 1571.17 1268.37 1594.3 1264.1C1617.43 1259.83 1640.23 1256.38 1663.7 1252.3C1687.17 1248.22 1711.72 1244.43 1735.1 1239.6C1758.48 1234.77 1780.78 1228.83 1804 1223.3C1827.22 1217.77 1851.02 1213.03 1874.4 1206.4C1897.78 1199.77 1926.7 1189.82 1944.3 1183.5C1961.9 1177.18 1968.35 1173.78 1980 1168.5C1991.65 1163.22 2001.47 1158.33 2014.2 1151.8C2026.93 1145.27 2044.85 1136.38 2056.4 1129.3C2067.95 1122.22 2075.85 1116 2083.5 1109.3C2091.15 1102.6 2096.1 1096.87 2102.3 1089.1C2108.5 1081.33 2115.72 1070.73 2120.7 1062.7C2125.68 1054.67 2128.37 1048.37 2132.2 1040.9C2136.03 1033.43 2139.95 1026.58 2143.7 1017.9C2147.45 1009.22 2150.88 998.37 2154.7 988.8C2158.52 979.23 2162.9 971.25 2166.6 960.5C2170.3 949.75 2173.67 935.55 2176.9 924.3C2180.13 913.05 2183.12 902.65 2186 893C2188.88 883.35 2191.32 877.33 2194.2 866.4C2197.08 855.47 2200.37 841.93 2203.3 827.4C2206.23 812.87 2210.08 788.93 2211.8 779.2C2213.52 769.47 2213.3 770.7 2213.6 769" fill="none" stroke="#f00" stroke-width="4.8" stroke-linejoin="round"/>
<g fill="#f00"><circle cx="1453.5" cy="1287" r="6.0"/><circle cx="1524.9" cy="1277.9" r="6.0"/><circle cx="1594.3" cy="1264.1" r="6.0"/><circle cx="1663.7" cy="1252.3" r="6.0"/><circle cx="1735.1" cy="1239.6" r="6.0"/><circle cx="1804" cy="1223.3" r="6.0"/><circle cx="1874.4" cy="1206.4" r="6.0"/><circle cx="1944.3" cy="1183.5" r="6.0"/><circle cx="2014.2" cy="1151.8" r="6.0"/><circle cx="2083.5" cy="1109.3" r="6.0"/><circle cx="2154.7" cy="988.8" r="6.0"/></g>
</g>
<path d="M1966.5 1297.8L2056 1297.8" stroke="#f00" stroke-width="5.8" stroke-linecap="round"/>
<circle cx="2010.1" cy="1297.8" r="5.7" fill="#fff" stroke="#f00" stroke-width="1.4"/>
<path d="M1966.5 1346.0L2056 1346.0" stroke="#f00" stroke-width="5.8" stroke-linecap="round"/>
<circle cx="2010.1" cy="1346.0" r="6.2" fill="#f00"/>
<g font-family="'Liberation Sans',sans-serif" font-size="39.2" fill="#111" letter-spacing="0.25">
<text x="2063" y="1310.1">PMA-DCN</text>
<text x="2063" y="1358.2">PMAT-DCN</text>
</g>
<path d="M1738.8 1096.2L1770.3 1077.5L1832 1184L1847.4 1175.3L1834 1224.1L1785.1 1211.4L1799.8 1202Z" fill="#000" opacity="0.5" filter="url(#blur6)" transform="translate(10,2)"/>
<path d="M1738.8 1096.2L1770.3 1077.5L1832 1184L1847.4 1175.3L1834 1224.1L1785.1 1211.4L1799.8 1202Z" fill="#0000ff"/>
<path d="M1740.34 1099.94L1772.84 1080.64" stroke="#fff" stroke-width="1.3" opacity="0.9"/>
<path d="M1742.18 1103.04L1774.68 1083.74" stroke="#fff" stroke-width="1.3" opacity="0.9"/>
</svg>
</body></html>
